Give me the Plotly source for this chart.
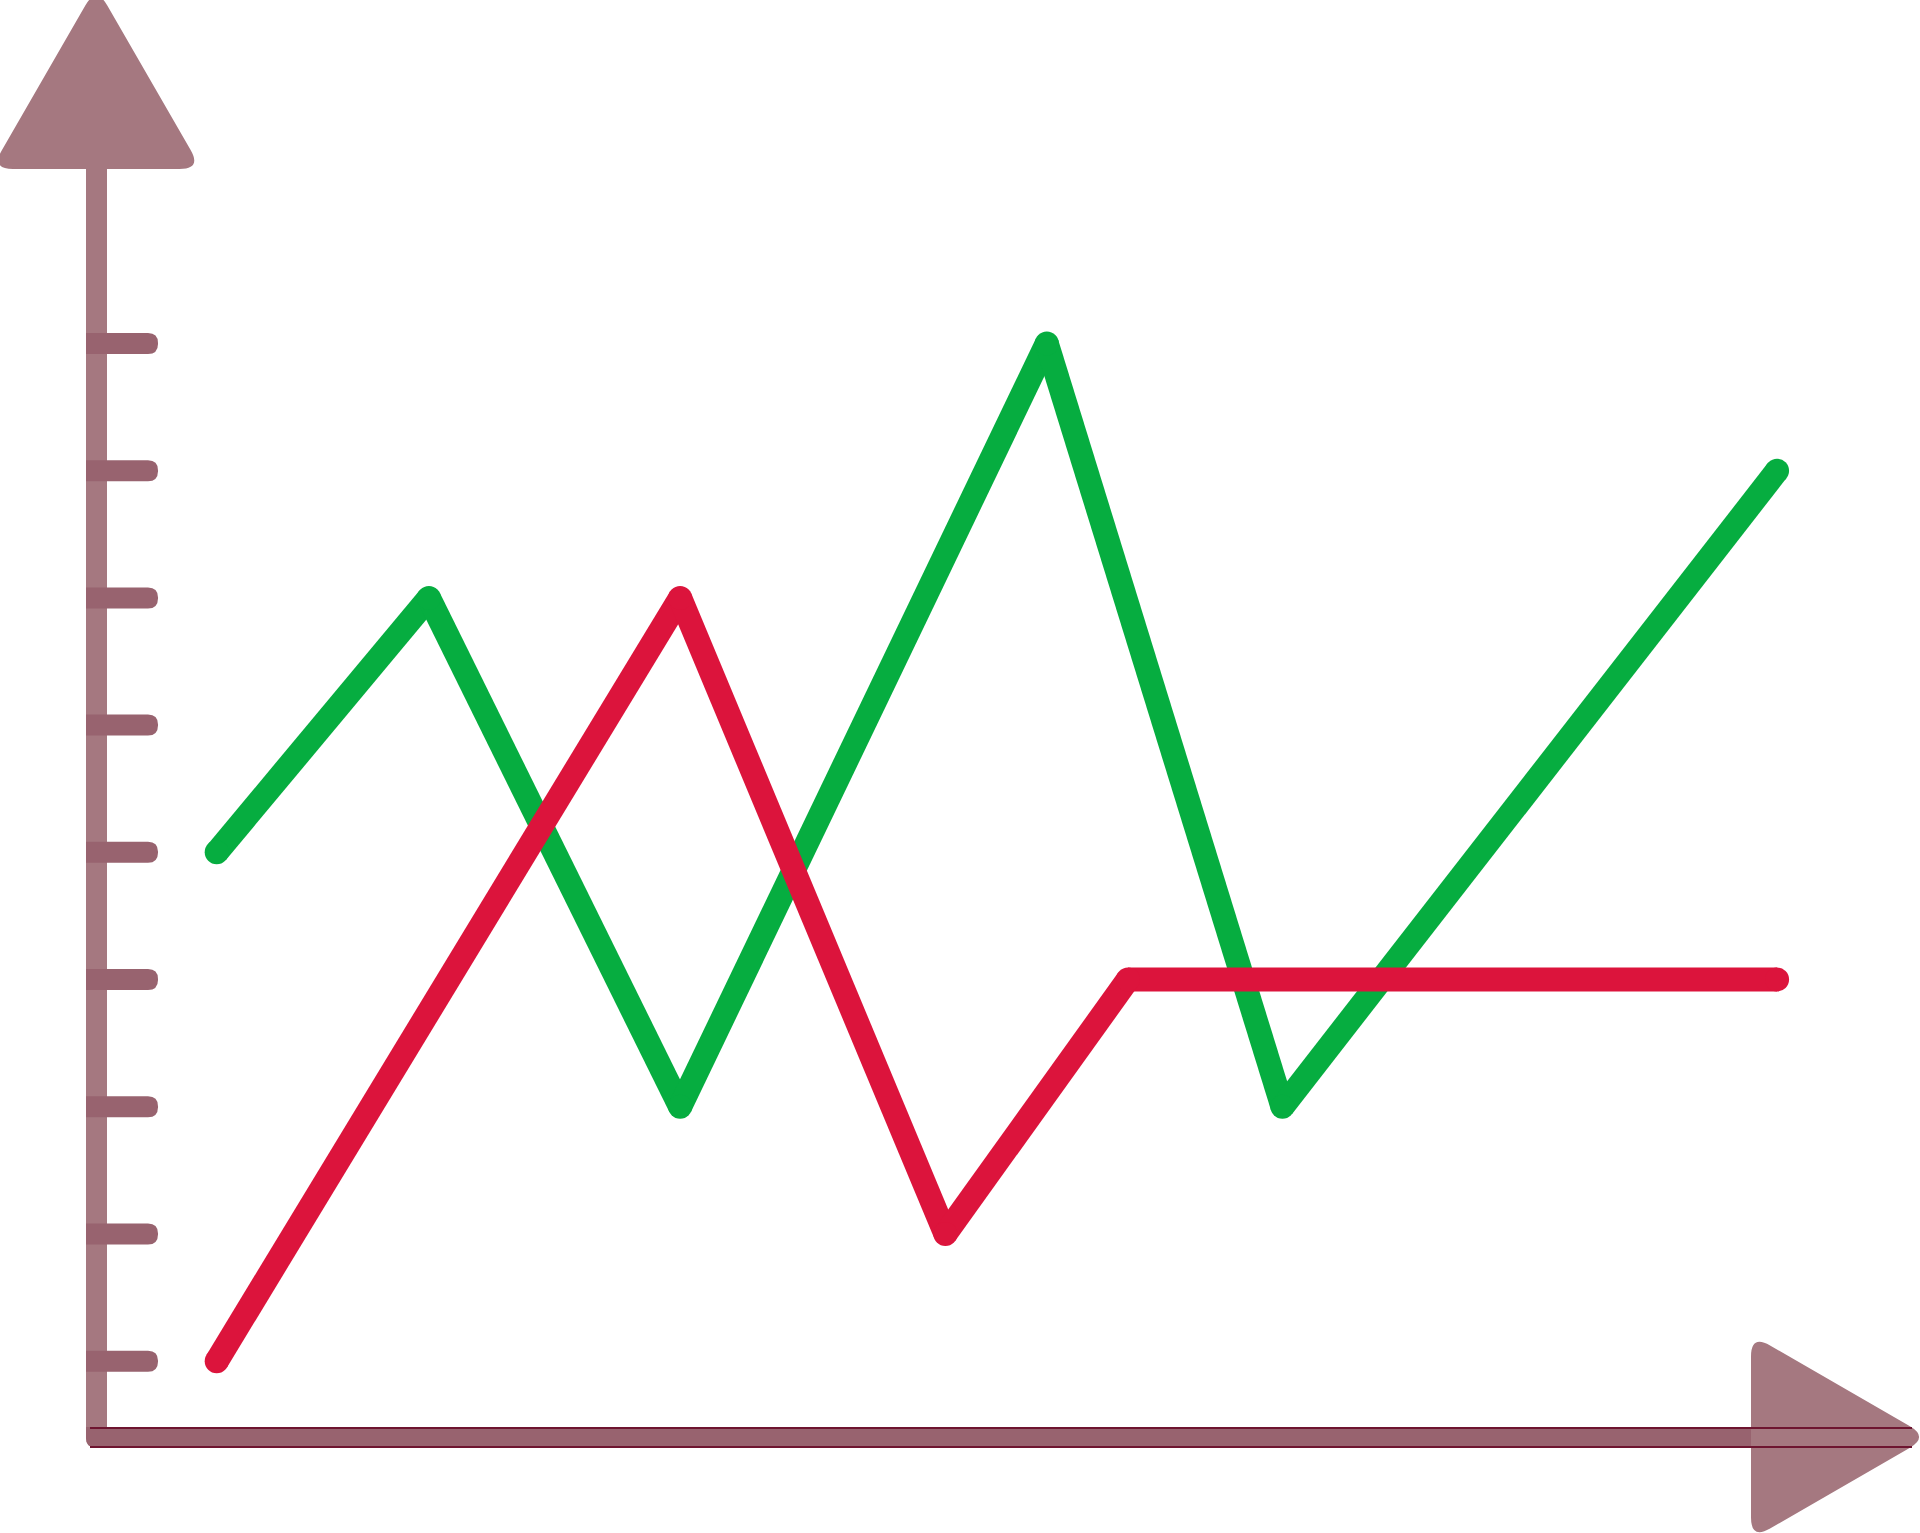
import plotly.graph_objects as go

# ---------------- data ----------------
green_x = [0, 13.6, 29.7, 53.2, 68.3, 100]
green_y = [5, 7, 3, 9, 3, 8]
red_x = [0, 29.7, 46.7, 58.4, 100]
red_y = [1, 7, 2, 4, 4]
y_ticks = [1, 2, 3, 4, 5, 6, 7, 8, 9]

# ---------------- style ----------------
W, H = 1920, 1533
X_RANGE = [-13.888, 109.16]
Y_RANGE = [-0.3505, 11.700]
GREEN = "#06AD40"
RED = "#DC143C"
AXIS = "#A57880"
AXIS_DARK = "#98636F"
EDGE = "#6E1530"
LW = 24


def px_paper(p):
    return p[0] / W, 1 - p[1] / H


def rounded_path(points, radii, conv):
    n = len(points)
    out = []
    for i in range(n):
        px, py = points[i]
        ax, ay = points[i - 1]
        bx, by = points[(i + 1) % n]
        r = radii[i]

        def toward(qx, qy):
            L = ((qx - px) ** 2 + (qy - py) ** 2) ** 0.5
            return (px + (qx - px) * r / L, py + (qy - py) * r / L)

        s = toward(ax, ay)
        e = toward(bx, by)
        out.append((conv(s), conv((px, py)), conv(e)))
    path = ""
    for k, (s, p, e) in enumerate(out):
        path += ("M" if k == 0 else " L") + f"{s[0]:.5f},{s[1]:.5f}"
        path += f" Q{p[0]:.5f},{p[1]:.5f} {e[0]:.5f},{e[1]:.5f}"
    return path + " Z"


def segments(xs, ys):
    """Split a polyline into separate segments (no miter joins)."""
    sx, sy = [], []
    for i in range(len(xs) - 1):
        sx += [xs[i], xs[i + 1], None]
        sy += [ys[i], ys[i + 1], None]
    return sx, sy


shapes = []

# vertical axis + horizontal axis (L-shape)
axis_pts = [(86, 160), (86, 1448), (1770, 1448), (1770, 1427), (107, 1427), (107, 160)]
shapes.append(dict(type="path", xref="paper", yref="paper", layer="below",
                   path=rounded_path(axis_pts, [0, 10, 0, 0, 0, 0], px_paper),
                   fillcolor=AXIS, line=dict(width=0)))
# darker horizontal band of the x axis
band_pts = [(86, 1427), (86, 1448), (1770, 1448), (1770, 1427)]
shapes.append(dict(type="path", xref="paper", yref="paper", layer="below",
                   path=rounded_path(band_pts, [0, 10, 0, 0], px_paper),
                   fillcolor=AXIS_DARK, line=dict(width=0)))

# tick marks anchored at tick values of the y axis
for t in y_ticks:
    pts = [(86, -10.5), (158, -10.5), (158, 10.5), (86, 10.5)]
    conv = lambda p: (p[0] / W, p[1])
    shapes.append(dict(type="path", xref="paper", yref="y", ysizemode="pixel",
                       yanchor=t, layer="below",
                       path=rounded_path(pts, [0, 10, 10, 0], conv),
                       fillcolor=AXIS_DARK, line=dict(width=0)))

# arrow heads
up_arrow = [(96.3, -13.6), (201.6, 169), (-9, 169)]
right_arrow = [(1751, 1334.5), (1928.6, 1437), (1751, 1539.5)]
for tri in (up_arrow, right_arrow):
    shapes.append(dict(type="path", xref="paper", yref="paper", layer="above",
                       path=rounded_path(tri, [22, 22, 22], px_paper),
                       fillcolor=AXIS, line=dict(width=0)))

# dark edge lines of the x axis, running into the arrow head
for yy, x_end in ((1428, 1912), (1447, 1912)):
    shapes.append(dict(type="line", xref="paper", yref="paper", layer="above",
                       x0=90 / W, x1=x_end / W, y0=1 - yy / H, y1=1 - yy / H,
                       line=dict(color=EDGE, width=2)))

fig = go.Figure()
for xs, ys, col in ((green_x, green_y, GREEN), (red_x, red_y, RED)):
    sx, sy = segments(xs, ys)
    fig.add_trace(go.Scatter(x=sx, y=sy, mode="lines", connectgaps=False,
                             line=dict(color=col, width=LW),
                             hoverinfo="skip"))
    fig.add_trace(go.Scatter(x=xs, y=ys, mode="markers",
                             marker=dict(color=col, size=LW, line=dict(width=0)),
                             hoverinfo="skip", cliponaxis=False))

fig.update_layout(
    width=W, height=H,
    margin=dict(l=0, r=0, t=0, b=0),
    paper_bgcolor="white", plot_bgcolor="white",
    showlegend=False,
    shapes=shapes,
    xaxis=dict(range=X_RANGE, visible=False, fixedrange=True),
    yaxis=dict(range=Y_RANGE, visible=False, fixedrange=True),
)

fig.write_html("out.html", config={"displayModeBar": False},
               post_script="document.body.style.margin='0px';document.body.style.overflow='hidden';")
